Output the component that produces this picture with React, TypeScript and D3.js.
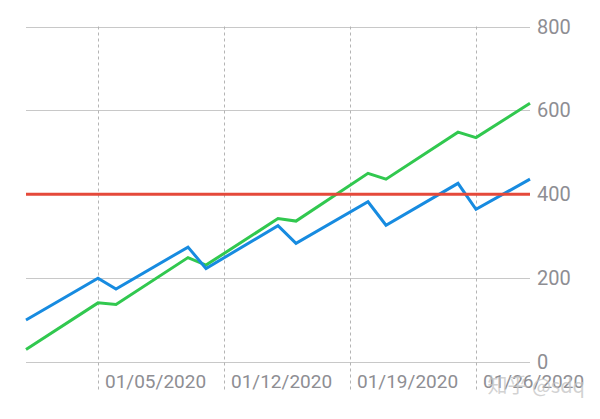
import * as d3 from "d3"
import { useEffect, useRef } from "react"

// Chart data
const dates = [
  "2020-01-01", "2020-01-05", "2020-01-06", "2020-01-10", "2020-01-11",
  "2020-01-15", "2020-01-16", "2020-01-20", "2020-01-21", "2020-01-25",
  "2020-01-26", "2020-01-29",
]
const blueValues = [100, 200, 174, 274, 223, 325, 283, 382, 326, 426, 364, 436]
const greenValues = [30, 141, 137, 249, 231, 342, 336, 450, 436, 548, 535, 617]
const redLevel = 400
const yTicks = [0, 200, 400, 600, 800]
const xTicks = ["2020-01-05", "2020-01-12", "2020-01-19", "2020-01-26"]

const parse = d3.timeParse("%Y-%m-%d")

const App = () => {
  const svgRef = useRef<SVGSVGElement | null>(null)

  useEffect(() => {
    if (!svgRef.current) return
    const svg = d3.select(svgRef.current)
    svg.selectAll("*").remove()

    const width = 600
    const height = 419
    const margin = { top: 26.5, right: 70, bottom: 57, left: 26 }

    const x = d3
      .scaleTime()
      .domain([parse(dates[0])!, parse(dates[dates.length - 1])!])
      .range([margin.left, width - margin.right])

    const y = d3
      .scaleLinear()
      .domain([0, 800])
      .range([height - margin.bottom, margin.top])

    const font = "Roboto, 'Open Sans', sans-serif"
    const textColor = "#8e8e93"

    // Horizontal grid + right axis labels
    const yAxis = svg.append("g")
    yAxis
      .selectAll("line")
      .data(yTicks)
      .enter()
      .append("line")
      .attr("x1", margin.left)
      .attr("x2", width - margin.right)
      .attr("y1", (d) => Math.round(y(d)) + 0.5)
      .attr("y2", (d) => Math.round(y(d)) + 0.5)
      .attr("stroke", "#c8c8c8")
      .attr("stroke-width", 1)
    yAxis
      .selectAll("text")
      .data(yTicks)
      .enter()
      .append("text")
      .attr("x", width - margin.right + 7)
      .attr("y", (d) => y(d))
      .attr("dy", "0.35em")
      .attr("fill", textColor)
      .style("font", `20px ${font}`)
      .text((d) => d)

    // Vertical dashed grid + date labels
    const fmt = d3.timeFormat("%m/%d/%Y")
    const xAxis = svg.append("g")
    xAxis
      .selectAll("line")
      .data(xTicks)
      .enter()
      .append("line")
      .attr("x1", (d) => Math.round(x(parse(d)!)) + 0.5)
      .attr("x2", (d) => Math.round(x(parse(d)!)) + 0.5)
      .attr("y1", margin.top)
      .attr("y2", height - 27)
      .attr("stroke", "#b4b4b4")
      .attr("stroke-width", 1)
      .attr("stroke-dasharray", "3,3")
    xAxis
      .selectAll("text")
      .data(xTicks)
      .enter()
      .append("text")
      .attr("x", (d) => x(parse(d)!) + 7)
      .attr("y", height - 31)
      .attr("fill", textColor)
      .style("font", `19px ${font}`)
      .text((d) => fmt(parse(d)!))

    // Series lines
    const line = d3
      .line<number>()
      .x((_, i) => x(parse(dates[i])!))
      .y((d) => y(d))

    const series = [
      { values: greenValues, color: "#31c84f" },
      { values: blueValues, color: "#178be0" },
    ]
    series.forEach((s) => {
      svg
        .append("path")
        .datum(s.values)
        .attr("d", line)
        .attr("fill", "none")
        .attr("stroke", s.color)
        .attr("stroke-width", 3)
        .attr("stroke-linejoin", "miter")
    })

    // Threshold line
    svg
      .append("line")
      .attr("x1", margin.left)
      .attr("x2", width - margin.right)
      .attr("y1", y(redLevel))
      .attr("y2", y(redLevel))
      .attr("stroke", "#e5493a")
      .attr("stroke-width", 3)

    // Watermark
    svg
      .append("text")
      .attr("x", 585)
      .attr("y", 393)
      .attr("text-anchor", "end")
      .attr("fill", "#c4c4c4")
      .attr("fill-opacity", 0.75)
      .style("font", "20px 'Noto Sans CJK SC', sans-serif")
      .text("知乎 @sdq")
  }, [])

  return (
    <svg
      ref={svgRef}
      width={600}
      height={419}
      style={{ position: "absolute", left: 0, top: 0, background: "#fff" }}
    />
  )
}

export default App
